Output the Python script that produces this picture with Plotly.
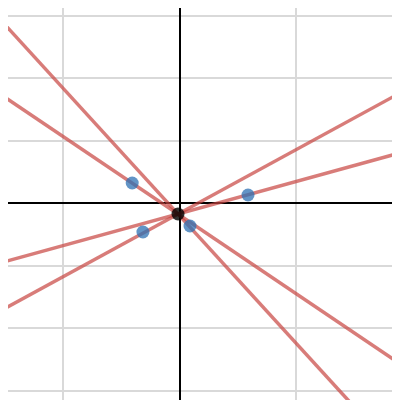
import plotly.graph_objects as go

X_RANGE = [-1.476, 1.957]
Y_RANGE = [-3.28, 3.12]
center = (-0.017, -0.176)
slopes = [-2.04, -1.258, 1.016, 0.513]
pts_x = [-0.41, 0.584, -0.318, 0.086]
pts_y = [0.32, 0.128, -0.464, -0.368]

fig = go.Figure()
for m in slopes:
    xs = [X_RANGE[0] - 0.5, X_RANGE[1] + 0.5]
    ys = [center[1] + m * (x - center[0]) for x in xs]
    fig.add_trace(go.Scatter(x=xs, y=ys, mode="lines",
                             line=dict(color="rgba(199,68,64,0.7)", width=3.5)))
fig.add_trace(go.Scatter(x=pts_x, y=pts_y, mode="markers",
                         marker=dict(color="rgba(45,112,179,0.75)", size=13)))
fig.add_trace(go.Scatter(x=[center[0]], y=[center[1]], mode="markers",
                         marker=dict(color="rgba(0,0,0,0.8)", size=13)))

ax = dict(showticklabels=False, showgrid=True, gridcolor="#d9d9d9", gridwidth=2,
          dtick=1, zeroline=True, zerolinecolor="black", zerolinewidth=1.5,
          showline=False, ticks="")
fig.update_layout(width=400, height=400,
                  margin=dict(l=0, r=0, t=0, b=0, pad=0, autoexpand=False),
                  plot_bgcolor="white", paper_bgcolor="white", showlegend=False,
                  xaxis=dict(range=X_RANGE, **ax), yaxis=dict(range=Y_RANGE, **ax))
fig.write_html("out.html", config={"displayModeBar": False})
